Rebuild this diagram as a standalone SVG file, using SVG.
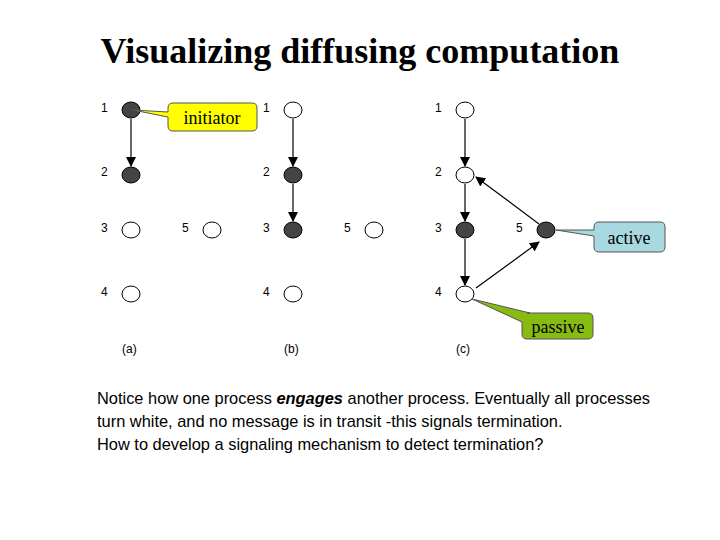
<svg xmlns="http://www.w3.org/2000/svg" width="720" height="540" viewBox="0 0 720 540">
<style>
.t{font-family:"Liberation Serif",serif}
.s{font-family:"Liberation Sans",sans-serif;font-size:12px}
.w{fill:#fff;stroke:#000;stroke-width:1}
.b{fill:#444;stroke:#000;stroke-width:1}
.c{stroke:#000;stroke-width:1.2;fill:none;marker-end:url(#a)}
</style>
<defs><marker id="a" markerWidth="10" markerHeight="10" refX="9" refY="5" orient="auto" markerUnits="userSpaceOnUse"><path d="M0,0 L10,5 L0,10 z" fill="#000"/></marker></defs>
<rect width="720" height="540" fill="#fff"/>
<text class="t" x="360" y="63" text-anchor="middle" font-size="36" font-weight="bold">Visualizing diffusing computation</text>
<g id="connectors">
<line class="c" x1="131" y1="119" x2="131" y2="166"/>
<line class="c" x1="293" y1="119" x2="293" y2="166"/>
<line class="c" x1="293" y1="184" x2="293" y2="221"/>
<line class="c" x1="465" y1="119" x2="465" y2="166"/>
<line class="c" x1="465" y1="184" x2="465" y2="221"/>
<line class="c" x1="465" y1="239" x2="465" y2="285"/>
<line class="c" x1="539" y1="224" x2="476" y2="177"/>
<line class="c" x1="476" y1="288" x2="539" y2="242"/>
</g>
<g class="s">
<text x="101" y="112">1</text><text x="101" y="176">2</text><text x="101" y="232">3</text><text x="101" y="296">4</text><text x="182" y="232">5</text>
<text x="263" y="112">1</text><text x="263" y="176">2</text><text x="263" y="232">3</text><text x="263" y="296">4</text><text x="344" y="232">5</text>
<text x="435" y="112">1</text><text x="435" y="176">2</text><text x="435" y="232">3</text><text x="435" y="296">4</text><text x="516" y="232">5</text>
<text x="122" y="353">(a)</text><text x="284" y="353">(b)</text><text x="456" y="353">(c)</text>
</g>
<g id="a1"><ellipse class="b" cx="131" cy="110" rx="9" ry="8"/></g>
<g id="a2"><ellipse class="b" cx="131" cy="175" rx="9" ry="8"/></g>
<g id="a3"><ellipse class="w" cx="131" cy="230" rx="9" ry="8"/></g>
<g id="a4"><ellipse class="w" cx="131" cy="294" rx="9" ry="8"/></g>
<g id="a5"><ellipse class="w" cx="212" cy="230" rx="9" ry="8"/></g>
<g id="b1"><ellipse class="w" cx="293" cy="110" rx="9" ry="8"/></g>
<g id="b2"><ellipse class="b" cx="293" cy="175" rx="9" ry="8"/></g>
<g id="b3"><ellipse class="b" cx="293" cy="230" rx="9" ry="8"/></g>
<g id="b4"><ellipse class="w" cx="293" cy="294" rx="9" ry="8"/></g>
<g id="b5"><ellipse class="w" cx="374" cy="230" rx="9" ry="8"/></g>
<g id="c1"><ellipse class="w" cx="465" cy="110" rx="9" ry="8"/></g>
<g id="c2"><ellipse class="w" cx="465" cy="175" rx="9" ry="8"/></g>
<g id="c3"><ellipse class="b" cx="465" cy="230" rx="9" ry="8"/></g>
<g id="c4"><ellipse class="w" cx="465" cy="294" rx="9" ry="8"/></g>
<g id="c5"><ellipse class="b" cx="546" cy="230" rx="9" ry="8"/></g>
<g id="initiator">
<path d="M168,108 Q168,103 173,103 L252,103 Q257,103 257,108 L257,126 Q257,131 252,131 L173,131 Q168,131 168,126 L168,117 L133,110 L168,112 Z" fill="#ffff00" stroke="#555"/>
<text class="t" x="212" y="124" text-anchor="middle" font-size="18">initiator</text>
</g>
<g id="active">
<path d="M594,227 Q594,222 599,222 L660,222 Q665,222 665,227 L665,247 Q665,252 660,252 L599,252 Q594,252 594,247 L594,236 L556,230 L594,230 Z" fill="#a8d8e0" stroke="#555"/>
<text class="t" x="629" y="244" text-anchor="middle" font-size="18">active</text>
</g>
<g id="passive">
<path d="M527,313 L588,313 Q593,313 593,318 L593,334 Q593,339 588,339 L527,339 Q522,339 522,334 L522,322 L472,299 L530,313 Z" fill="#88bb11" stroke="#555"/>
<text class="t" x="558" y="333" text-anchor="middle" font-size="18">passive</text>
</g>
<g font-family="Liberation Sans,sans-serif" font-size="16.4">
<text x="97" y="404">Notice how one process <tspan font-weight="bold" font-style="italic">engages</tspan> another process. Eventually all processes</text>
<text x="97" y="427">turn white, and no message is in transit -this signals termination.</text>
<text x="97" y="450">How to develop a signaling mechanism to detect termination?</text>
</g>
</svg>
